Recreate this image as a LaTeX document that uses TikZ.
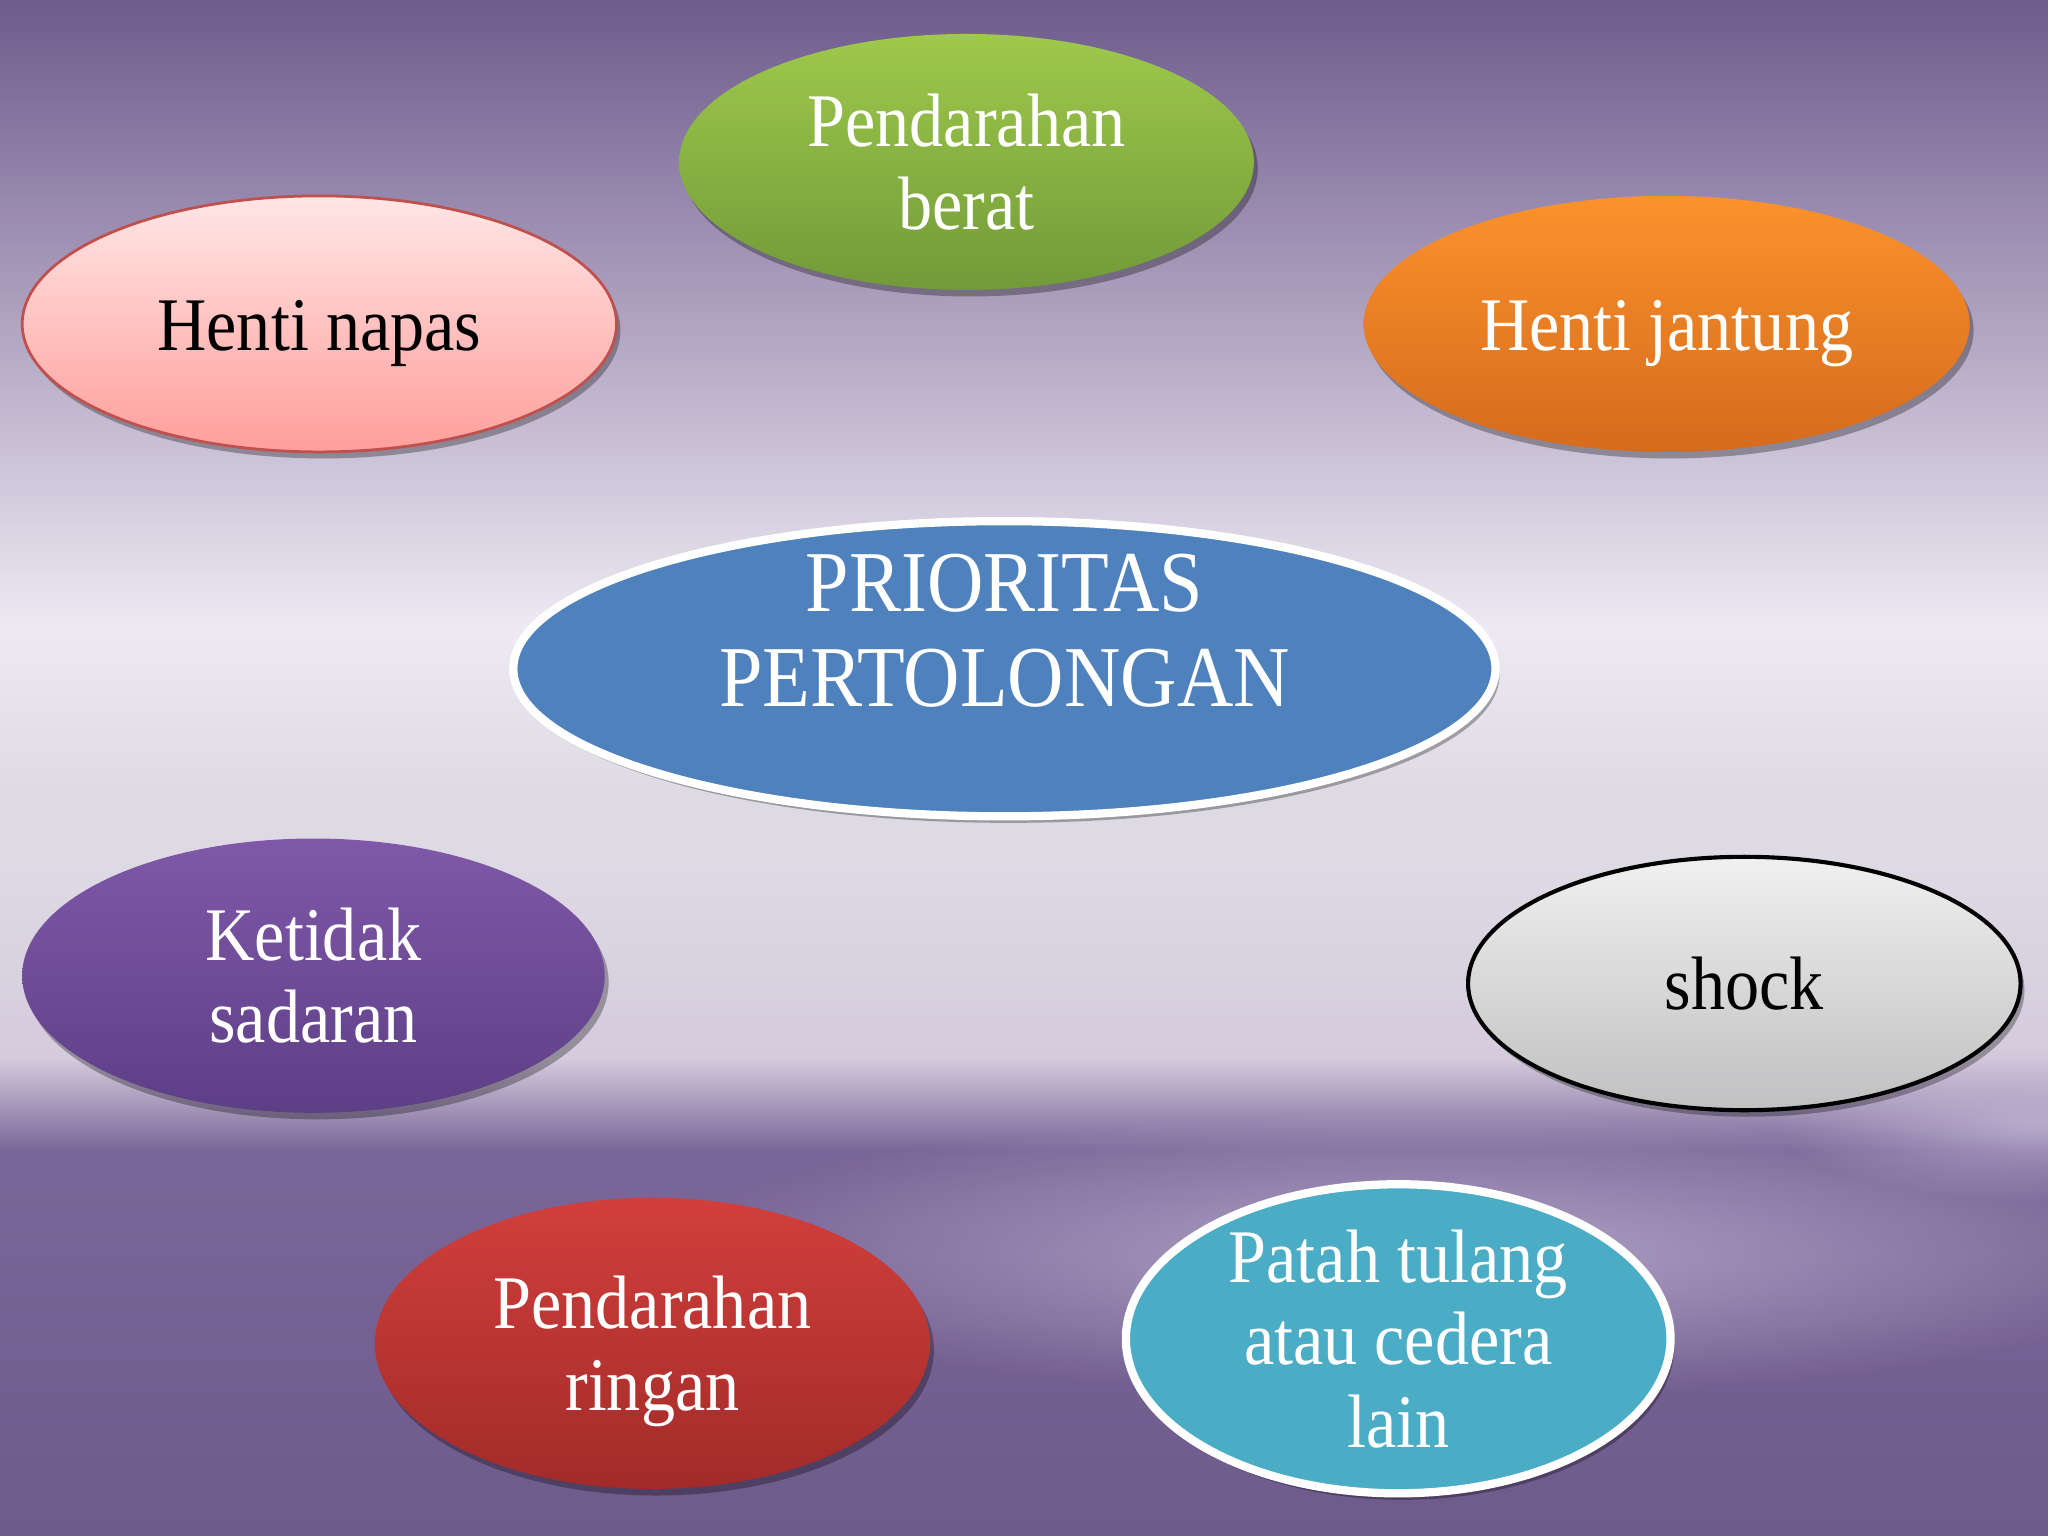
\documentclass[tikz,border=0pt]{standalone}
\usepackage{fontspec}
\setmainfont[FakeStretch=0.9]{Liberation Serif}
\usetikzlibrary{shapes.geometric,shadows,fadings}
\definecolor{bgTop}{HTML}{6E5A8C}
\definecolor{bgA}{HTML}{AB9DC0}
\definecolor{bgLight}{HTML}{EEEAF3}
\definecolor{bgMid}{HTML}{DEDAE4}
\definecolor{bgStreak}{HTML}{AAA2B4}
\definecolor{bgC}{HTML}{D4CBDD}
\definecolor{bgCm}{HTML}{CDC4D8}
\definecolor{bgDark}{HTML}{7A6698}
\definecolor{bgE}{HTML}{846FA3}
\definecolor{bgBot}{HTML}{6F5A8C}
\definecolor{bgGlow}{HTML}{C4B8D6}
\definecolor{gTop}{HTML}{9EC94B}
\definecolor{gBot}{HTML}{729A39}
\definecolor{pTop}{HTML}{FFE6E6}
\definecolor{pBot}{HTML}{FF9F9B}
\definecolor{pLine}{HTML}{C0504D}
\definecolor{oTop}{HTML}{FC922C}
\definecolor{oBot}{HTML}{D56B1C}
\definecolor{vTop}{HTML}{8058A9}
\definecolor{vBot}{HTML}{5D3F86}
\definecolor{sTop}{HTML}{F0F0F0}
\definecolor{sBot}{HTML}{C0C0C2}
\definecolor{rTop}{HTML}{D13F3B}
\definecolor{rBot}{HTML}{A22B29}
\definecolor{teal}{HTML}{4BACC6}
\definecolor{cblue}{HTML}{4F81BD}
\tikzfading[name=softglow, inner color=transparent!0, outer color=transparent!100]
\begin{document}
\begin{tikzpicture}[
  bub/.style={ellipse, inner sep=0pt, align=center,
    drop shadow={shadow xshift=0.03, shadow yshift=-0.05, opacity=0.3, fill=black}},
  smalltxt/.style={font=\fontsize{16.5}{18}\selectfont},
  bigtxt/.style={font=\fontsize{18.9}{20.8}\selectfont},
  oneline/.style={text height=15.2pt, text depth=3.6pt},
]
\useasboundingbox (0,0) rectangle (15.68,-11.76);
% background
\shade[top color=bgTop, middle color=bgA, bottom color=bgLight] (0,0.01) rectangle (15.68,-4.81);
\shade[top color=bgLight, bottom color=bgMid] (0,-4.8) rectangle (15.68,-6.11);
\shade[top color=bgMid, middle color=bgStreak, bottom color=bgMid] (0,-6.1) rectangle (15.68,-6.61);
\shade[top color=bgMid, middle color=bgCm, bottom color=bgC] (0,-6.6) rectangle (15.68,-8.11);
\shade[top color=bgC, bottom color=bgDark] (0,-8.1) rectangle (15.68,-8.81);
\shade[top color=bgDark, middle color=bgE, bottom color=bgBot] (0,-8.8) rectangle (15.68,-11.77);
\fill[bgGlow, opacity=0.75, path fading=softglow] (11.0,-9.6) ellipse (6 and 1.1);
\fill[bgGlow, opacity=0.75, path fading=softglow] (15.6,-8.6) ellipse (2 and 0.6);

% nodes
\node[bub, smalltxt, top color=gTop, bottom color=gBot, text=white,
  minimum width=4.40cm, minimum height=1.96cm] (berat) at (7.40,-1.24) {Pendarahan\\berat};
\node[bub, smalltxt, oneline, top color=pTop, bottom color=pBot, draw=pLine, line width=0.6pt, text=black,
  minimum width=4.55cm, minimum height=1.96cm] (napas) at (2.445,-2.48) {Henti napas};
\node[bub, smalltxt, oneline, top color=oTop, bottom color=oBot, text=white,
  minimum width=4.64cm, minimum height=1.96cm] (jantung) at (12.76,-2.48) {Henti jantung};
\node[bub, fill=cblue, draw=white, line width=1.8pt,
  minimum width=7.52cm, minimum height=2.26cm] (prio) at (7.69,-5.12) {};
\node[bigtxt, text=white, align=center] (prioT) at (7.69,-4.83) {PRIORITAS\\PERTOLONGAN};
\node[bub, smalltxt, top color=vTop, bottom color=vBot, text=white,
  minimum width=4.46cm, minimum height=2.10cm] (sadar) at (2.40,-7.47) {Ketidak\\sadaran};
\node[bub, smalltxt, top color=sTop, bottom color=sBot, draw=black, line width=0.9pt, text=black,
  minimum width=4.23cm, minimum height=1.94cm] (shock) at (13.355,-7.53) {shock};
\node[bub, smalltxt, text depth=0pt, top color=rTop, bottom color=rBot, text=white,
  minimum width=4.25cm, minimum height=2.23cm] (ringan) at (4.995,-10.285) {Pendarahan\\ringan};
\node[bub, smalltxt, fill=teal, draw=white, line width=1.8pt, text=white,
  minimum width=4.17cm, minimum height=2.24cm] (patah) at (10.705,-10.25) {Patah tulang\\atau cedera\\lain};
\end{tikzpicture}
\end{document}
